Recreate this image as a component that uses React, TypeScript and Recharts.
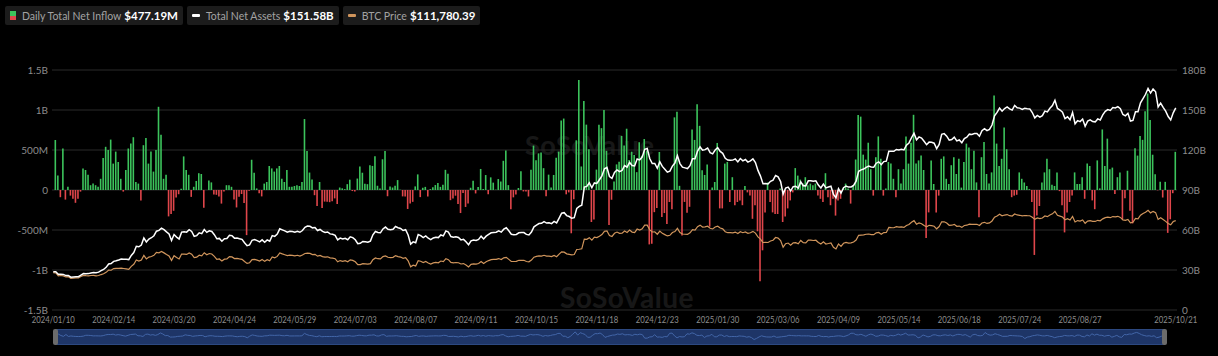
import React from "react";
import { ComposedChart, Bar, Line, XAxis, YAxis, CartesianGrid, Cell, LineChart } from "recharts";

// US market holidays (no ETF trading)
const HOLIDAYS = [
  "2024/01/15", "2024/02/19", "2024/03/29", "2024/05/27", "2024/06/19", "2024/07/04", "2024/09/02",
  "2024/11/28", "2024/12/25", "2025/01/01", "2025/01/09", "2025/01/20", "2025/02/17", "2025/04/18",
  "2025/05/26", "2025/06/19", "2025/07/04", "2025/09/01",
];

const TICK_DATES = [
  "2024/01/10", "2024/02/14", "2024/03/20", "2024/04/24", "2024/05/29", "2024/07/03", "2024/08/07",
  "2024/09/11", "2024/10/15", "2024/11/18", "2024/12/23", "2025/01/30", "2025/03/06", "2025/04/09",
  "2025/05/14", "2025/06/18", "2025/07/24", "2025/08/27", "2025/10/21",
];

// daily total net inflow, millions USD
const FLOW_2024 = [
  0, 625, 180, -90, 520, -120, 40, -70, -110, -160, -110, -20, 270, 250, 190,
  60, 80, 60, 40, 140, 400, 540, 500, 630, 330, 480, 350, 140, -20, 250, 520, 580, 660, 100, 80,
  -130, 560, 650, 330, 480, 230, 500, 1040, 690, 140, 190, -330, -300, -260, -94, -53, 15, 420, 250, 190,
  -86, 40, 113, 210, 200, -223, 0, 120, 95, -55, -60, -80, -170, -20, 60, 60, 40, -120, -218, -85, -50, -162,
  -564, -10, 378, 217, 20, -40, -80, 80, 100, 300, 270, 230, 270, 300, 140, 100, 250, 40, 40, 50, 60, 50,
  100, 887, 488, 218, 131, -65, -200, 100, -226, -145, -146, -152, -140, -105, -175, 31, 21, 11, 73,
  129, -13, -20, 143, 295, 216, 78, 73, 310, 301, 422, 53, 19, 384, 486, -78, 44, 31, 52, 124, 4, -80,
  -81, -237, -168, -148, 45, 195, -89, 28, 39, -81, 11, 33, 62, 88, 39, 65, 252, 202, -127, -105, -71, -175,
  -288, -38, -212, -169, 28, 117, -43, 39, 263, 13, 187, -53, 158, 92, 4, 137, 106, 365, 494, 61,
  -242, -92, -55, 25, 235, -18, -19, -81, 253, 555, 371, 458, 470, 273, -79, 192, 32, 188, 402, 479, 870, 893, -54,
  -30, -541, -116, 621, 1376, 294, 1114, 817, 510, -400, -370, 255, 816, 773, 1000, 490, -438, -122, 105, 320,
  353, 676, 556, 766, 376, 479, 438, 223, 597, 428, 637, 493, -680, -672, -277, -226, 475, -338, -288, -426, -150,
];

const FLOW_2025 = [
  -242, 908, 978, 52, -568, -149, -284, -210, 755, 626, 1072, 802, 248, 188, 318, -458, 30, 100, 588, -230,
  -230, 330, 350, -150, 160, -190, -150, -130, -190, 50, -30, -70, -360, -190, -516, -1140, -754, -280, 94,
  -150, -280, -300, -300, 20, -400, -330, -230, -130, -30, 274, 180, 130, 80, 160, 60, 80, 60, 80, -70, -110,
  -150, 210, -90, -190, -110, -320, -130, -110, 20, 80, 20, -170, 60, 381, 936, 917, 442, 380, 591, 260, -70,
  410, 670, 390, -70, 20, 350, 330, 140, -90, 260, 80, 260, 670, 330, 590, 940, 330, 370, 430, 250, -600,
  -280, 370, 75, -280, -70, 390, 420, 140, 75, 310, 410, 200, 390, 30, 350, 580, 530, 260, 490, 95,
  -340, 410, 600, 200, 80, 220, 1180, 580, 300, 390, 780, 510, 260, -90, -70, -60, 220, 140, 95, 50, 10, -150,
  -812, -320, -200, 95, 220, 390, 260, 65, 50, 220, -14, -190, -530, -280, -150, -70, 220, 75, 75, 160, -110,
  330, 300, -130, -240, 370, 20, 757, 300, 642, 260, 280, -50, 160, 220, -363, -104, 241, -258, -418, 522, 430,
  676, 627, 985, 1205, 875, 441, 198, -4, 102, -94, 102, -536, -366, -40, 477.19,
];

// total net assets, billions USD
const ASSETS_2024 = [
  28.7, 28.7, 26.8, 26.9, 26.7, 25.8, 25.9, 24.6, 24.8, 25.0, 25.0, 26.2, 27.3, 27.2, 27.3,
  27.8, 28.1, 27.9, 28.4, 29.5, 30.4, 32.0, 34.5, 34.8, 36.5, 36.9, 37.5, 38.2, 38.1, 38.0, 37.8, 40.9, 43.1, 47.8, 47.4,
  48.7, 54.0, 51.0, 53.2, 54.2, 55.7, 59.1, 59.7, 61.4, 60.3, 58.6, 57.1, 52.1, 56.6, 54.7, 53.3, 58.4, 58.7, 58.4, 60.2,
  58.9, 55.3, 55.8, 57.9, 57.3, 60.3, 58.2, 59.4, 58.9, 56.5, 53.4, 53.7, 51.6, 53.4, 53.6, 56.1, 55.8, 53.9, 54.0, 53.4, 53.0, 50.5,
  48.2, 48.8, 52.3, 52.8, 52.0, 51.1, 52.6, 50.8, 52.6, 51.6, 55.8, 55.2, 57.0, 60.9, 60.1, 59.3, 58.3, 59.0, 58.9, 58.3, 59.0, 58.3,
  59.6, 62.0, 62.9, 62.8, 61.6, 61.8, 59.6, 60.4, 59.0, 58.1, 58.5, 57.1, 56.8, 56.0, 52.6, 53.9, 53.2, 53.8, 52.7,
  54.9, 54.3, 52.7, 49.7, 50.0, 51.4, 51.2, 50.9, 51.7, 56.4, 58.9, 58.1, 57.9, 60.8, 62.2, 60.6, 60.2, 60.5, 62.6, 61.7, 61.1, 59.6,
  60.2, 56.3, 49.4, 51.1, 50.4, 56.6, 55.8, 54.3, 55.6, 53.8, 52.7, 54.0, 54.6, 54.3, 56.3, 55.6, 59.3, 58.4, 55.1, 54.6, 54.9, 54.4,
  52.6, 53.0, 51.2, 49.0, 51.9, 52.5, 52.2, 52.9, 55.4, 53.3, 55.4, 56.7, 57.9, 58.2, 58.3, 59.3, 58.4, 60.6, 61.7, 59.4,
  56.8, 56.5, 56.7, 57.9, 58.2, 58.1, 56.7, 56.3, 58.5, 62.4, 63.7, 64.8, 65.0, 66.3, 65.2, 65.4, 64.8, 66.4, 65.3, 68.9, 72.6, 73.0, 70.8,
  70.1, 68.8, 69.3, 76.1, 77.7, 78.6, 92.2, 92.7, 95.4, 91.7, 95.3, 94.9, 97.7, 100.5, 105.9, 106.9, 100.1, 98.8, 103.2, 105.1,
  103.8, 104.6, 108.3, 107.1, 110.7, 108.4, 108.0, 113.3, 112.6, 114.7, 120.5, 121.1, 113.6, 109.9, 109.9, 106.3, 111.2, 107.7, 105.6, 103.4, 104.2,
];

const ASSETS_2025 = [
  107.9, 110.2, 115.7, 109.8, 107.1, 106.6, 106.1, 108.2, 113.5, 113.4, 119.2, 122.3, 119.8, 120.3, 121.5, 118.0, 117.1, 120.0, 121.8, 118.9,
  117.5, 113.8, 112.5, 112.3, 112.4, 113.3, 111.1, 113.6, 111.9, 112.9, 110.9, 111.8, 113.3, 110.6, 104.7, 100.4, 94.7, 94.9, 94.5,
  96.5, 97.4, 100.9, 99.9, 96.3, 86.9, 91.5, 92.2, 89.3, 92.5, 92.8, 91.4, 96.1, 93.2, 93.1, 96.9, 96.9, 96.5, 96.9, 93.7, 91.5,
  94.4, 91.6, 92.2, 92.8, 86.7, 84.2, 91.0, 87.6, 91.7, 93.0, 92.2, 92.3, 93.4, 96.6, 104.0, 105.1, 105.7, 107.0, 107.9, 107.3, 107.1,
  110.1, 111.1, 109.0, 111.3, 111.6, 119.1, 119.1, 119.0, 120.4, 120.1, 120.5, 120.1, 123.6, 125.3, 129.2, 132.5, 127.6, 129.8, 128.9, 126.5, 124.0,
  125.9, 125.8, 125.1, 121.0, 124.2, 131.7, 132.3, 130.4, 127.4, 127.8, 129.6, 126.8, 127.5, 125.5, 128.6, 129.6, 131.9, 131.7, 132.3, 132.4,
  130.3, 134.5, 136.0, 134.5, 135.5, 138.7, 145.6, 148.2, 151.4, 149.1, 151.1, 152.3, 150.8, 150.0, 153.4, 151.7, 151.4, 150.5, 151.3, 151.0, 150.8, 148.1,
  144.1, 145.9, 144.7, 145.8, 149.2, 148.6, 151.3, 153.4, 157.3, 151.2, 150.0, 148.4, 143.6, 144.9, 142.7, 148.1, 139.7, 142.0, 141.3, 143.2, 137.8,
  141.7, 142.6, 141.3, 141.1, 143.3, 142.5, 146.4, 149.0, 150.3, 149.7, 151.8, 151.5, 152.5, 150.9, 146.6, 145.6, 147.5, 141.7, 142.2, 148.7, 148.7,
  155.4, 158.6, 161.8, 166.2, 162.7, 165.7, 163.7, 152.3, 155.2, 152.0, 149.1, 145.1, 142.5, 147.9, 151.58,
];

// BTC price, thousands USD
const BTC_2024 = [
  46.6, 46.3, 42.8, 43.1, 42.7, 41.3, 41.6, 39.5, 39.9, 40.1, 40.0, 41.8, 43.3, 42.9, 42.6,
  43.1, 43.2, 42.6, 43.1, 44.3, 45.3, 47.1, 50.0, 49.7, 51.8, 52.0, 52.1, 52.3, 51.9, 51.3, 50.7, 54.5, 57.1, 62.5, 61.2,
  62.4, 68.3, 63.8, 66.1, 66.9, 68.3, 72.1, 71.5, 73.1, 71.4, 69.4, 67.6, 62.0, 67.8, 65.5, 63.8, 69.9, 69.9, 69.5, 71.3,
  69.7, 65.5, 66.0, 68.5, 67.8, 71.6, 69.1, 70.6, 70.0, 67.1, 63.4, 63.8, 61.3, 63.5, 63.8, 66.8, 66.4, 64.3, 64.5, 63.8, 63.4, 60.6,
  58.3, 59.1, 62.9, 63.2, 62.3, 61.2, 63.1, 60.8, 62.9, 61.6, 66.3, 65.2, 67.0, 71.4, 70.1, 69.1, 67.9, 68.5, 68.3, 67.6, 68.4, 67.5,
  68.8, 70.6, 71.1, 70.8, 69.3, 69.6, 67.3, 68.2, 66.8, 66.0, 66.5, 65.1, 64.9, 64.1, 60.3, 61.8, 60.9, 61.6, 60.3,
  62.7, 62.0, 60.2, 56.7, 56.7, 58.0, 57.7, 57.3, 57.9, 62.8, 65.1, 64.1, 63.9, 66.7, 67.6, 65.9, 65.4, 65.8, 68.0, 66.8, 66.2, 64.6,
  65.4, 61.4, 54.0, 56.0, 55.1, 61.7, 60.9, 59.3, 60.6, 58.7, 57.5, 58.9, 59.5, 59.0, 61.2, 60.4, 64.1, 62.9, 59.5, 59.0, 59.4, 59.1,
  57.5, 58.0, 56.2, 53.9, 57.0, 57.6, 57.3, 58.1, 60.5, 58.2, 60.3, 61.8, 62.9, 63.2, 63.3, 64.3, 63.1, 65.2, 65.8, 63.3,
  60.8, 60.6, 60.8, 62.1, 62.2, 62.1, 60.6, 60.3, 62.4, 66.0, 67.0, 67.6, 67.4, 68.4, 67.4, 67.4, 66.7, 68.2, 66.6, 69.9, 72.7, 72.3, 70.2,
  69.5, 68.8, 69.4, 75.6, 75.9, 76.5, 88.7, 88.3, 90.4, 87.3, 91.1, 90.5, 92.3, 94.3, 98.4, 98.9, 93.0, 91.9, 95.9, 97.4,
  95.8, 96.0, 98.8, 97.0, 99.9, 97.4, 96.7, 101.2, 100.0, 101.5, 106.1, 106.1, 100.2, 97.5, 97.8, 94.7, 98.7, 95.8, 94.2, 92.6, 93.4,
];

const BTC_2025 = [
  96.9, 98.1, 102.1, 96.9, 95.0, 94.7, 94.5, 96.5, 100.5, 99.9, 104.1, 106.1, 103.7, 104.0, 104.7, 102.1, 101.3, 103.7, 104.7, 102.4,
  101.4, 97.9, 96.6, 96.6, 96.5, 97.4, 95.7, 97.9, 96.6, 97.5, 95.8, 96.6, 98.3, 96.1, 91.4, 88.7, 84.3, 84.7, 84.4,
  86.2, 87.2, 90.6, 89.9, 86.7, 78.5, 82.9, 83.7, 81.1, 84.0, 84.1, 82.7, 86.9, 84.2, 84.0, 87.5, 87.4, 86.9, 87.2, 84.4, 82.5,
  85.2, 82.5, 83.1, 83.8, 78.4, 76.3, 82.6, 79.6, 83.4, 84.5, 83.7, 84.0, 84.9, 87.5, 93.4, 93.7, 93.9, 94.7, 95.0, 94.3, 94.2,
  96.5, 96.9, 94.7, 96.8, 97.0, 103.2, 102.9, 102.8, 104.1, 103.5, 103.8, 103.2, 105.6, 106.8, 109.7, 111.7, 107.3, 108.9, 107.8, 105.6, 103.9,
  105.8, 105.4, 104.7, 101.5, 104.3, 110.2, 110.3, 108.7, 105.9, 106.0, 107.1, 104.6, 104.9, 103.3, 105.6, 106.0, 107.4, 107.1, 107.1, 107.1,
  105.7, 108.8, 109.6, 108.2, 108.9, 111.3, 115.9, 117.5, 119.8, 117.7, 118.7, 119.3, 117.9, 117.4, 120.0, 118.8, 118.4, 117.6, 118.1, 117.9, 117.8, 115.8,
  113.3, 115.0, 114.2, 115.0, 117.5, 116.7, 118.7, 120.2, 123.3, 118.3, 117.4, 116.2, 112.9, 114.2, 112.5, 116.9, 110.1, 111.8, 111.2, 112.6, 108.4,
  111.2, 111.7, 110.7, 110.7, 112.1, 111.5, 113.9, 115.5, 116.1, 115.4, 116.8, 116.5, 117.1, 115.7, 112.7, 112.0, 113.3, 109.0, 109.7, 114.4, 114.0,
  118.6, 120.6, 122.3, 124.7, 121.4, 123.3, 121.7, 113.2, 115.3, 113.0, 110.8, 108.2, 106.5, 110.6, 111.78,
];

const FLOWS = [...FLOW_2024, ...FLOW_2025];
const ASSETS = [...ASSETS_2024, ...ASSETS_2025];
const BTC = [...BTC_2024, ...BTC_2025];

const GREEN = "#3cc45c";
const RED = "#e0464b";
const ORANGE = "#d0955c";

const pad = (n: number) => (n < 10 ? "0" + n : "" + n);

// trading calendar 2024/01/10 .. 2025/10/21
const buildDates = () => {
  const out: string[] = [];
  const d = new Date(Date.UTC(2024, 0, 10));
  const end = Date.UTC(2025, 9, 21);
  while (d.getTime() <= end) {
    const wd = d.getUTCDay();
    const s = `${d.getUTCFullYear()}/${pad(d.getUTCMonth() + 1)}/${pad(d.getUTCDate())}`;
    if (wd !== 0 && wd !== 6 && !HOLIDAYS.includes(s)) out.push(s);
    d.setUTCDate(d.getUTCDate() + 1);
  }
  return out;
};

const DATES = buildDates();
const N = Math.min(DATES.length, FLOWS.length, ASSETS.length, BTC.length);
const data = DATES.slice(0, N).map((date, i) => ({ date, flow: FLOWS[i], assets: ASSETS[i], btc: BTC[i] }));

const fmtLeft = (v: number) => (v === 0 ? "0" : Math.abs(v) >= 1000 ? `${v / 1000}B` : `${v}M`);
const fmtRight = (v: number) => (v === 0 ? "0" : `${v}B`);

const FONT = "Lato, 'Open Sans', sans-serif";
const tickStyle = { fill: "#8c8c8c", fontSize: 10, fontFamily: FONT };

// narrow date labels like the original
const DateTick = (props: any) => {
  const { x, y, payload } = props;
  return (
    <text x={x} y={y + 1} dy="0.71em" textAnchor="middle" fill="#8c8c8c" fontSize={10} fontFamily={FONT}
      textLength={43} lengthAdjust="spacingAndGlyphs">
      {payload.value}
    </text>
  );
};

const LegendItem = ({ icon, label, value }: { icon: React.ReactNode; label: string; value: string }) => (
  <div
    style={{
      display: "flex", alignItems: "center", height: 19, boxSizing: "border-box", padding: "0 5px 0 5px",
      background: "#1c1c1c", borderRadius: 2, marginRight: 4, whiteSpace: "nowrap",
    }}
  >
    {icon}
    <span style={{ color: "#a3a3a3", fontSize: 10.5, marginLeft: 6 }}>{label}</span>
    <span style={{ color: "#fff", fontSize: 11.5, fontWeight: 700, marginLeft: 3 }}>{value}</span>
  </div>
);

export default function App() {
  return (
    <div style={{ position: "absolute", left: 0, top: 0, width: 1218, height: 356, background: "#000", overflow: "hidden", fontFamily: FONT }}>
      <div style={{ position: "absolute", left: 5, top: 6, display: "flex" }}>
        <LegendItem
          icon={
            <span style={{ display: "inline-block", width: 6, height: 9 }}>
              <span style={{ display: "block", height: 5, background: GREEN }} />
              <span style={{ display: "block", height: 4, background: RED }} />
            </span>
          }
          label="Daily Total Net Inflow"
          value="$477.19M"
        />
        <LegendItem
          icon={<span style={{ display: "inline-block", width: 8, height: 3, background: "#fff", borderRadius: 1 }} />}
          label="Total Net Assets"
          value="$151.58B"
        />
        <LegendItem
          icon={<span style={{ display: "inline-block", width: 8, height: 3, background: ORANGE, borderRadius: 1 }} />}
          label="BTC Price"
          value="$111,780.39"
        />
      </div>

      <div style={{ position: "absolute", left: 525, top: 128, color: "#fff", opacity: 0.09, fontSize: 27, fontWeight: 700, letterSpacing: 0.5 }}>
        SoSoValue
      </div>
      <div style={{ position: "absolute", left: 560, top: 280, color: "#fff", opacity: 0.09, fontSize: 28, fontWeight: 700, letterSpacing: 0.5 }}>
        SoSoValue
      </div>

      <div style={{ position: "absolute", left: 0, top: 0 }}>
        <ComposedChart width={1218} height={330} data={data} margin={{ top: 70, right: 0, bottom: 0, left: 0 }} barCategoryGap={0}>
          <CartesianGrid yAxisId="left" vertical={false} stroke="#2a2a2a" />
          <XAxis
            dataKey="date"
            ticks={TICK_DATES}
            interval={0}
            tickLine={false}
            axisLine={false}
            tickSize={3}
            tickMargin={2}
            height={20}
            tick={<DateTick />}
          />
          <YAxis
            yAxisId="left"
            domain={[-1500, 1500]}
            ticks={[-1500, -1000, -500, 0, 500, 1000, 1500]}
            tickFormatter={fmtLeft}
            tickLine={false}
            axisLine={false}
            tickSize={3}
            tickMargin={1}
            width={52}
            tick={tickStyle}
          />
          <YAxis
            yAxisId="right"
            orientation="right"
            domain={[0, 180]}
            ticks={[0, 30, 60, 90, 120, 150, 180]}
            tickFormatter={fmtRight}
            tickLine={false}
            axisLine={false}
            tickSize={3}
            tickMargin={2}
            width={41}
            tick={tickStyle}
          />
          <YAxis yAxisId="btc" orientation="right" hide width={0} domain={[0, 300]} />
          <Bar yAxisId="left" dataKey="flow" barSize={1.6} isAnimationActive={false}>
            {data.map((d, i) => (
              <Cell key={i} fill={d.flow >= 0 ? GREEN : RED} />
            ))}
          </Bar>
          <Line yAxisId="btc" dataKey="btc" type="linear" stroke={ORANGE} strokeWidth={1.2} dot={false} isAnimationActive={false} />
          <Line yAxisId="right" dataKey="assets" type="linear" stroke="#ffffff" strokeWidth={1.5} dot={false} isAnimationActive={false} />
        </ComposedChart>
      </div>

      {/* data zoom slider */}
      <div
        style={{
          position: "absolute", left: 55, top: 329, width: 1110, height: 16, background: "#1e3567",
          border: "1px solid #2c4880", borderRadius: 2, boxSizing: "border-box", overflow: "hidden",
        }}
      >
        <LineChart width={1108} height={14} data={data} margin={{ top: 0, right: 0, bottom: 0, left: 0 }}>
          <YAxis hide domain={[-2600, 2000]} />
          <XAxis dataKey="date" hide />
          <Line dataKey="flow" stroke="#4366a8" strokeWidth={1} dot={false} isAnimationActive={false} />
        </LineChart>
      </div>
      <div style={{ position: "absolute", left: 53, top: 329, width: 5, height: 16, background: "#6b6b6b", borderRadius: 2 }} />
      <div style={{ position: "absolute", left: 1162, top: 329, width: 5, height: 16, background: "#6b6b6b", borderRadius: 2 }} />
    </div>
  );
}
